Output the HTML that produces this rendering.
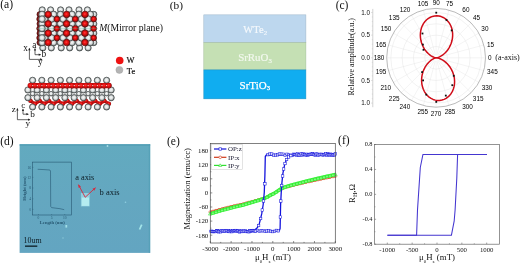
<!DOCTYPE html>
<html><head><meta charset="utf-8"><title>Figure</title>
<style>
html,body{margin:0;padding:0;background:#fff;}
body{width:520px;height:264px;overflow:hidden;}
svg{display:block;}
.se{font-family:"Liberation Serif",serif;}
.sa{font-family:"Liberation Sans",sans-serif;}
</style></head><body>
<svg width="520" height="264" viewBox="0 0 520 264">
<rect width="520" height="264" fill="#fff"/>
<defs>
<radialGradient id="gG" cx="48%" cy="46%" r="54%"><stop offset="0" stop-color="#f6f8f8"/><stop offset="0.45" stop-color="#e2e5e5"/><stop offset="0.75" stop-color="#a8aeae"/><stop offset="1" stop-color="#4e5454"/></radialGradient>
<radialGradient id="gR" cx="46%" cy="44%" r="56%"><stop offset="0" stop-color="#ff4040"/><stop offset="0.4" stop-color="#ea1010"/><stop offset="0.75" stop-color="#c00c0c"/><stop offset="1" stop-color="#641010"/></radialGradient>
<radialGradient id="gD" cx="46%" cy="44%" r="56%"><stop offset="0" stop-color="#c81818"/><stop offset="0.6" stop-color="#a01010"/><stop offset="1" stop-color="#501010"/></radialGradient>
<linearGradient id="afm" x1="0" y1="0" x2="0" y2="1"><stop offset="0" stop-color="#62aabf"/><stop offset="0.5" stop-color="#64a7c0"/><stop offset="1" stop-color="#63a5c1"/></linearGradient>
</defs>
<text class="se" x="0.20" y="8.30" font-size="11.6" text-anchor="start" fill="#111" >(a)</text>
<circle cx="42.20" cy="9.90" r="3.1" fill="url(#gG)" stroke="#4c5252" stroke-width="0.8"/>
<circle cx="50.60" cy="9.90" r="3.1" fill="url(#gG)" stroke="#4c5252" stroke-width="0.8"/>
<circle cx="42.80" cy="47.90" r="3.1" fill="url(#gG)" stroke="#4c5252" stroke-width="0.8"/>
<circle cx="51.30" cy="47.90" r="3.1" fill="url(#gG)" stroke="#4c5252" stroke-width="0.8"/>
<circle cx="60.60" cy="9.90" r="3.1" fill="url(#gG)" stroke="#4c5252" stroke-width="0.8"/>
<circle cx="69.00" cy="9.90" r="3.1" fill="url(#gG)" stroke="#4c5252" stroke-width="0.8"/>
<circle cx="61.20" cy="47.90" r="3.1" fill="url(#gG)" stroke="#4c5252" stroke-width="0.8"/>
<circle cx="69.70" cy="47.90" r="3.1" fill="url(#gG)" stroke="#4c5252" stroke-width="0.8"/>
<circle cx="79.00" cy="9.90" r="3.1" fill="url(#gG)" stroke="#4c5252" stroke-width="0.8"/>
<circle cx="87.40" cy="9.90" r="3.1" fill="url(#gG)" stroke="#4c5252" stroke-width="0.8"/>
<circle cx="79.60" cy="47.90" r="3.1" fill="url(#gG)" stroke="#4c5252" stroke-width="0.8"/>
<circle cx="88.10" cy="47.90" r="3.1" fill="url(#gG)" stroke="#4c5252" stroke-width="0.8"/>
<circle cx="39.80" cy="14.40" r="2.8" fill="url(#gD)" stroke="#4a0c0c" stroke-width="0.8"/>
<circle cx="93.80" cy="14.40" r="3.1" fill="url(#gG)" stroke="#4c5252" stroke-width="0.8"/>
<circle cx="39.60" cy="19.10" r="2.8" fill="url(#gD)" stroke="#4a0c0c" stroke-width="0.8"/>
<circle cx="39.80" cy="23.80" r="2.8" fill="url(#gD)" stroke="#4a0c0c" stroke-width="0.8"/>
<circle cx="93.80" cy="23.80" r="3.1" fill="url(#gG)" stroke="#4c5252" stroke-width="0.8"/>
<circle cx="39.60" cy="28.50" r="2.8" fill="url(#gD)" stroke="#4a0c0c" stroke-width="0.8"/>
<circle cx="39.80" cy="33.20" r="2.8" fill="url(#gD)" stroke="#4a0c0c" stroke-width="0.8"/>
<circle cx="93.80" cy="33.20" r="3.1" fill="url(#gG)" stroke="#4c5252" stroke-width="0.8"/>
<circle cx="39.60" cy="37.90" r="2.8" fill="url(#gD)" stroke="#4a0c0c" stroke-width="0.8"/>
<circle cx="39.80" cy="42.60" r="2.8" fill="url(#gD)" stroke="#4a0c0c" stroke-width="0.8"/>
<circle cx="93.80" cy="42.60" r="3.1" fill="url(#gG)" stroke="#4c5252" stroke-width="0.8"/>
<circle cx="42.00" cy="14.40" r="3.3" fill="url(#gG)" stroke="#4c5252" stroke-width="0.8"/>
<circle cx="53.60" cy="14.40" r="3.3" fill="url(#gG)" stroke="#4c5252" stroke-width="0.8"/>
<circle cx="60.40" cy="14.40" r="3.3" fill="url(#gG)" stroke="#4c5252" stroke-width="0.8"/>
<circle cx="72.00" cy="14.40" r="3.3" fill="url(#gG)" stroke="#4c5252" stroke-width="0.8"/>
<circle cx="78.80" cy="14.40" r="3.3" fill="url(#gG)" stroke="#4c5252" stroke-width="0.8"/>
<circle cx="90.40" cy="14.40" r="3.3" fill="url(#gG)" stroke="#4c5252" stroke-width="0.8"/>
<circle cx="42.00" cy="23.80" r="3.3" fill="url(#gG)" stroke="#4c5252" stroke-width="0.8"/>
<circle cx="53.60" cy="23.80" r="3.3" fill="url(#gG)" stroke="#4c5252" stroke-width="0.8"/>
<circle cx="60.40" cy="23.80" r="3.3" fill="url(#gG)" stroke="#4c5252" stroke-width="0.8"/>
<circle cx="72.00" cy="23.80" r="3.3" fill="url(#gG)" stroke="#4c5252" stroke-width="0.8"/>
<circle cx="78.80" cy="23.80" r="3.3" fill="url(#gG)" stroke="#4c5252" stroke-width="0.8"/>
<circle cx="90.40" cy="23.80" r="3.3" fill="url(#gG)" stroke="#4c5252" stroke-width="0.8"/>
<circle cx="42.00" cy="33.20" r="3.3" fill="url(#gG)" stroke="#4c5252" stroke-width="0.8"/>
<circle cx="53.60" cy="33.20" r="3.3" fill="url(#gG)" stroke="#4c5252" stroke-width="0.8"/>
<circle cx="60.40" cy="33.20" r="3.3" fill="url(#gG)" stroke="#4c5252" stroke-width="0.8"/>
<circle cx="72.00" cy="33.20" r="3.3" fill="url(#gG)" stroke="#4c5252" stroke-width="0.8"/>
<circle cx="78.80" cy="33.20" r="3.3" fill="url(#gG)" stroke="#4c5252" stroke-width="0.8"/>
<circle cx="90.40" cy="33.20" r="3.3" fill="url(#gG)" stroke="#4c5252" stroke-width="0.8"/>
<circle cx="42.00" cy="42.60" r="3.3" fill="url(#gG)" stroke="#4c5252" stroke-width="0.8"/>
<circle cx="53.60" cy="42.60" r="3.3" fill="url(#gG)" stroke="#4c5252" stroke-width="0.8"/>
<circle cx="60.40" cy="42.60" r="3.3" fill="url(#gG)" stroke="#4c5252" stroke-width="0.8"/>
<circle cx="72.00" cy="42.60" r="3.3" fill="url(#gG)" stroke="#4c5252" stroke-width="0.8"/>
<circle cx="78.80" cy="42.60" r="3.3" fill="url(#gG)" stroke="#4c5252" stroke-width="0.8"/>
<circle cx="90.40" cy="42.60" r="3.3" fill="url(#gG)" stroke="#4c5252" stroke-width="0.8"/>
<circle cx="51.50" cy="19.10" r="3.3" fill="url(#gG)" stroke="#4c5252" stroke-width="0.8"/>
<circle cx="44.70" cy="19.10" r="3.3" fill="url(#gG)" stroke="#4c5252" stroke-width="0.8"/>
<circle cx="69.90" cy="19.10" r="3.3" fill="url(#gG)" stroke="#4c5252" stroke-width="0.8"/>
<circle cx="63.10" cy="19.10" r="3.3" fill="url(#gG)" stroke="#4c5252" stroke-width="0.8"/>
<circle cx="88.30" cy="19.10" r="3.3" fill="url(#gG)" stroke="#4c5252" stroke-width="0.8"/>
<circle cx="81.50" cy="19.10" r="3.3" fill="url(#gG)" stroke="#4c5252" stroke-width="0.8"/>
<circle cx="42.00" cy="19.10" r="3.3" fill="url(#gG)" stroke="#4c5252" stroke-width="0.8"/>
<circle cx="51.50" cy="28.50" r="3.3" fill="url(#gG)" stroke="#4c5252" stroke-width="0.8"/>
<circle cx="44.70" cy="28.50" r="3.3" fill="url(#gG)" stroke="#4c5252" stroke-width="0.8"/>
<circle cx="69.90" cy="28.50" r="3.3" fill="url(#gG)" stroke="#4c5252" stroke-width="0.8"/>
<circle cx="63.10" cy="28.50" r="3.3" fill="url(#gG)" stroke="#4c5252" stroke-width="0.8"/>
<circle cx="88.30" cy="28.50" r="3.3" fill="url(#gG)" stroke="#4c5252" stroke-width="0.8"/>
<circle cx="81.50" cy="28.50" r="3.3" fill="url(#gG)" stroke="#4c5252" stroke-width="0.8"/>
<circle cx="42.00" cy="28.50" r="3.3" fill="url(#gG)" stroke="#4c5252" stroke-width="0.8"/>
<circle cx="51.50" cy="37.90" r="3.3" fill="url(#gG)" stroke="#4c5252" stroke-width="0.8"/>
<circle cx="44.70" cy="37.90" r="3.3" fill="url(#gG)" stroke="#4c5252" stroke-width="0.8"/>
<circle cx="69.90" cy="37.90" r="3.3" fill="url(#gG)" stroke="#4c5252" stroke-width="0.8"/>
<circle cx="63.10" cy="37.90" r="3.3" fill="url(#gG)" stroke="#4c5252" stroke-width="0.8"/>
<circle cx="88.30" cy="37.90" r="3.3" fill="url(#gG)" stroke="#4c5252" stroke-width="0.8"/>
<circle cx="81.50" cy="37.90" r="3.3" fill="url(#gG)" stroke="#4c5252" stroke-width="0.8"/>
<circle cx="42.00" cy="37.90" r="3.3" fill="url(#gG)" stroke="#4c5252" stroke-width="0.8"/>
<circle cx="56.90" cy="19.10" r="2.85" fill="url(#gR)" stroke="#681010" stroke-width="0.8"/>
<circle cx="75.30" cy="19.10" r="2.85" fill="url(#gR)" stroke="#681010" stroke-width="0.8"/>
<circle cx="93.70" cy="19.10" r="2.85" fill="url(#gR)" stroke="#681010" stroke-width="0.8"/>
<circle cx="56.90" cy="28.50" r="2.85" fill="url(#gR)" stroke="#681010" stroke-width="0.8"/>
<circle cx="75.30" cy="28.50" r="2.85" fill="url(#gR)" stroke="#681010" stroke-width="0.8"/>
<circle cx="93.70" cy="28.50" r="2.85" fill="url(#gR)" stroke="#681010" stroke-width="0.8"/>
<circle cx="56.90" cy="37.90" r="2.85" fill="url(#gR)" stroke="#681010" stroke-width="0.8"/>
<circle cx="75.30" cy="37.90" r="2.85" fill="url(#gR)" stroke="#681010" stroke-width="0.8"/>
<circle cx="93.70" cy="37.90" r="2.85" fill="url(#gR)" stroke="#681010" stroke-width="0.8"/>
<circle cx="48.20" cy="14.40" r="3.25" fill="url(#gR)" stroke="#681010" stroke-width="0.8"/>
<circle cx="66.60" cy="14.40" r="3.25" fill="url(#gR)" stroke="#681010" stroke-width="0.8"/>
<circle cx="85.00" cy="14.40" r="3.25" fill="url(#gR)" stroke="#681010" stroke-width="0.8"/>
<circle cx="48.20" cy="23.80" r="3.25" fill="url(#gR)" stroke="#681010" stroke-width="0.8"/>
<circle cx="66.60" cy="23.80" r="3.25" fill="url(#gR)" stroke="#681010" stroke-width="0.8"/>
<circle cx="85.00" cy="23.80" r="3.25" fill="url(#gR)" stroke="#681010" stroke-width="0.8"/>
<circle cx="48.20" cy="33.20" r="3.25" fill="url(#gR)" stroke="#681010" stroke-width="0.8"/>
<circle cx="66.60" cy="33.20" r="3.25" fill="url(#gR)" stroke="#681010" stroke-width="0.8"/>
<circle cx="85.00" cy="33.20" r="3.25" fill="url(#gR)" stroke="#681010" stroke-width="0.8"/>
<circle cx="48.20" cy="42.60" r="3.25" fill="url(#gR)" stroke="#681010" stroke-width="0.8"/>
<circle cx="66.60" cy="42.60" r="3.25" fill="url(#gR)" stroke="#681010" stroke-width="0.8"/>
<circle cx="85.00" cy="42.60" r="3.25" fill="url(#gR)" stroke="#681010" stroke-width="0.8"/>
<line x1="37" y1="28.4" x2="98" y2="28.4" stroke="#3fae8c" stroke-width="0.5" opacity="0.6"/>
<path d="M29.4,48.4 V59.4 H41.9" fill="none" stroke="#222" stroke-width="0.7"/>
<path d="M28.299999999999997,50.199999999999996 L29.4,47.8 L30.5,50.199999999999996Z" fill="#222"/>
<path d="M40.1,58.3 L42.5,59.4 L40.1,60.5Z" fill="#222"/>
<path d="M35,48.7 V54.7 H40.5" fill="none" stroke="#222" stroke-width="0.7"/>
<path d="M33.9,50.5 L35,48.1 L36.1,50.5Z" fill="#222"/>
<path d="M38.7,53.6 L41.1,54.7 L38.7,55.800000000000004Z" fill="#222"/>
<text class="se" x="23.30" y="50.60" font-size="9.3" text-anchor="start" fill="#111" >x</text>
<text class="se" x="32.30" y="47.80" font-size="9.3" text-anchor="start" fill="#111" >a</text>
<text class="se" x="41.50" y="57.40" font-size="9.3" text-anchor="start" fill="#111" >b</text>
<text class="se" x="38.00" y="64.90" font-size="9.3" text-anchor="start" fill="#111" >y</text>
<text class="se" x="99.30" y="31.40" font-size="9.6" text-anchor="start" fill="#111" font-style="italic">M</text>
<text class="se" x="107.30" y="30.80" font-size="9.7" text-anchor="start" fill="#111" >(Mirror plane)</text>
<circle cx="119.7" cy="60.5" r="3.8" fill="#ee1212"/>
<text class="se" x="126.60" y="63.40" font-size="8.5" text-anchor="start" fill="#111" stroke="#111" stroke-width="0.2">W</text>
<circle cx="119.4" cy="69.9" r="3.5" fill="#b4b4b4" stroke="#a4a4a4" stroke-width="0.5"/>
<text class="se" x="126.80" y="73.50" font-size="8.5" text-anchor="start" fill="#111" stroke="#111" stroke-width="0.2">Te</text>
<circle cx="27.90" cy="90.00" r="3.1" fill="url(#gG)" stroke="#4c5252" stroke-width="0.8"/>
<circle cx="37.15" cy="90.00" r="3.1" fill="url(#gG)" stroke="#4c5252" stroke-width="0.8"/>
<circle cx="46.40" cy="90.00" r="3.1" fill="url(#gG)" stroke="#4c5252" stroke-width="0.8"/>
<circle cx="55.65" cy="90.00" r="3.1" fill="url(#gG)" stroke="#4c5252" stroke-width="0.8"/>
<circle cx="64.90" cy="90.00" r="3.1" fill="url(#gG)" stroke="#4c5252" stroke-width="0.8"/>
<circle cx="74.15" cy="90.00" r="3.1" fill="url(#gG)" stroke="#4c5252" stroke-width="0.8"/>
<circle cx="83.40" cy="90.00" r="3.1" fill="url(#gG)" stroke="#4c5252" stroke-width="0.8"/>
<circle cx="92.65" cy="90.00" r="3.1" fill="url(#gG)" stroke="#4c5252" stroke-width="0.8"/>
<circle cx="101.90" cy="90.00" r="3.1" fill="url(#gG)" stroke="#4c5252" stroke-width="0.8"/>
<circle cx="111.15" cy="90.00" r="3.1" fill="url(#gG)" stroke="#4c5252" stroke-width="0.8"/>
<circle cx="32.60" cy="93.70" r="2.3" fill="url(#gG)" stroke="#4c5252" stroke-width="0.8"/>
<circle cx="41.85" cy="93.70" r="2.3" fill="url(#gG)" stroke="#4c5252" stroke-width="0.8"/>
<circle cx="51.10" cy="93.70" r="2.3" fill="url(#gG)" stroke="#4c5252" stroke-width="0.8"/>
<circle cx="60.35" cy="93.70" r="2.3" fill="url(#gG)" stroke="#4c5252" stroke-width="0.8"/>
<circle cx="69.60" cy="93.70" r="2.3" fill="url(#gG)" stroke="#4c5252" stroke-width="0.8"/>
<circle cx="78.85" cy="93.70" r="2.3" fill="url(#gG)" stroke="#4c5252" stroke-width="0.8"/>
<circle cx="88.10" cy="93.70" r="2.3" fill="url(#gG)" stroke="#4c5252" stroke-width="0.8"/>
<circle cx="97.35" cy="93.70" r="2.3" fill="url(#gG)" stroke="#4c5252" stroke-width="0.8"/>
<circle cx="106.60" cy="93.70" r="2.3" fill="url(#gG)" stroke="#4c5252" stroke-width="0.8"/>
<path d="M30.40,100.80 L35.02,103.80 L39.64,100.80 L44.26,103.80 L48.88,100.80 L53.50,103.80 L58.12,100.80 L62.74,103.80 L67.36,100.80 L71.98,103.80 L76.60,100.80 L81.22,103.80 L85.84,100.80 L90.46,103.80 L95.08,100.80 L99.70,103.80 L104.32,100.80 L108.94,103.80" fill="none" stroke="#d81414" stroke-width="3.2" stroke-linejoin="round" stroke-linecap="round"/>
<circle cx="30.40" cy="100.80" r="2.2" fill="url(#gR)"/>
<circle cx="35.02" cy="103.80" r="2.2" fill="url(#gR)"/>
<circle cx="39.64" cy="100.80" r="2.2" fill="url(#gR)"/>
<circle cx="44.26" cy="103.80" r="2.2" fill="url(#gR)"/>
<circle cx="48.88" cy="100.80" r="2.2" fill="url(#gR)"/>
<circle cx="53.50" cy="103.80" r="2.2" fill="url(#gR)"/>
<circle cx="58.12" cy="100.80" r="2.2" fill="url(#gR)"/>
<circle cx="62.74" cy="103.80" r="2.2" fill="url(#gR)"/>
<circle cx="67.36" cy="100.80" r="2.2" fill="url(#gR)"/>
<circle cx="71.98" cy="103.80" r="2.2" fill="url(#gR)"/>
<circle cx="76.60" cy="100.80" r="2.2" fill="url(#gR)"/>
<circle cx="81.22" cy="103.80" r="2.2" fill="url(#gR)"/>
<circle cx="85.84" cy="100.80" r="2.2" fill="url(#gR)"/>
<circle cx="90.46" cy="103.80" r="2.2" fill="url(#gR)"/>
<circle cx="95.08" cy="100.80" r="2.2" fill="url(#gR)"/>
<circle cx="99.70" cy="103.80" r="2.2" fill="url(#gR)"/>
<circle cx="104.32" cy="100.80" r="2.2" fill="url(#gR)"/>
<circle cx="108.94" cy="103.80" r="2.2" fill="url(#gR)"/>
<circle cx="27.90" cy="97.70" r="3.1" fill="url(#gG)" stroke="#4c5252" stroke-width="0.8"/>
<circle cx="37.15" cy="97.70" r="3.1" fill="url(#gG)" stroke="#4c5252" stroke-width="0.8"/>
<circle cx="46.40" cy="97.70" r="3.1" fill="url(#gG)" stroke="#4c5252" stroke-width="0.8"/>
<circle cx="55.65" cy="97.70" r="3.1" fill="url(#gG)" stroke="#4c5252" stroke-width="0.8"/>
<circle cx="64.90" cy="97.70" r="3.1" fill="url(#gG)" stroke="#4c5252" stroke-width="0.8"/>
<circle cx="74.15" cy="97.70" r="3.1" fill="url(#gG)" stroke="#4c5252" stroke-width="0.8"/>
<circle cx="83.40" cy="97.70" r="3.1" fill="url(#gG)" stroke="#4c5252" stroke-width="0.8"/>
<circle cx="92.65" cy="97.70" r="3.1" fill="url(#gG)" stroke="#4c5252" stroke-width="0.8"/>
<circle cx="101.90" cy="97.70" r="3.1" fill="url(#gG)" stroke="#4c5252" stroke-width="0.8"/>
<circle cx="111.15" cy="97.70" r="3.1" fill="url(#gG)" stroke="#4c5252" stroke-width="0.8"/>
<circle cx="32.60" cy="80.30" r="3.1" fill="url(#gG)" stroke="#4c5252" stroke-width="0.8"/>
<circle cx="41.85" cy="80.30" r="3.1" fill="url(#gG)" stroke="#4c5252" stroke-width="0.8"/>
<circle cx="51.10" cy="80.30" r="3.1" fill="url(#gG)" stroke="#4c5252" stroke-width="0.8"/>
<circle cx="60.35" cy="80.30" r="3.1" fill="url(#gG)" stroke="#4c5252" stroke-width="0.8"/>
<circle cx="69.60" cy="80.30" r="3.1" fill="url(#gG)" stroke="#4c5252" stroke-width="0.8"/>
<circle cx="78.85" cy="80.30" r="3.1" fill="url(#gG)" stroke="#4c5252" stroke-width="0.8"/>
<circle cx="88.10" cy="80.30" r="3.1" fill="url(#gG)" stroke="#4c5252" stroke-width="0.8"/>
<circle cx="97.35" cy="80.30" r="3.1" fill="url(#gG)" stroke="#4c5252" stroke-width="0.8"/>
<circle cx="106.60" cy="80.30" r="3.1" fill="url(#gG)" stroke="#4c5252" stroke-width="0.8"/>
<circle cx="32.60" cy="107.00" r="3.1" fill="url(#gG)" stroke="#4c5252" stroke-width="0.8"/>
<circle cx="41.85" cy="107.00" r="3.1" fill="url(#gG)" stroke="#4c5252" stroke-width="0.8"/>
<circle cx="51.10" cy="107.00" r="3.1" fill="url(#gG)" stroke="#4c5252" stroke-width="0.8"/>
<circle cx="60.35" cy="107.00" r="3.1" fill="url(#gG)" stroke="#4c5252" stroke-width="0.8"/>
<circle cx="69.60" cy="107.00" r="3.1" fill="url(#gG)" stroke="#4c5252" stroke-width="0.8"/>
<circle cx="78.85" cy="107.00" r="3.1" fill="url(#gG)" stroke="#4c5252" stroke-width="0.8"/>
<circle cx="88.10" cy="107.00" r="3.1" fill="url(#gG)" stroke="#4c5252" stroke-width="0.8"/>
<circle cx="97.35" cy="107.00" r="3.1" fill="url(#gG)" stroke="#4c5252" stroke-width="0.8"/>
<circle cx="106.60" cy="107.00" r="3.1" fill="url(#gG)" stroke="#4c5252" stroke-width="0.8"/>
<rect x="28.4" y="82.9" width="82.8" height="5.4" rx="2.7" fill="#e01010"/>
<circle cx="30.40" cy="85.6" r="2.8" fill="url(#gR)"/>
<circle cx="35.02" cy="85.6" r="2.8" fill="url(#gR)"/>
<circle cx="39.64" cy="85.6" r="2.8" fill="url(#gR)"/>
<circle cx="44.26" cy="85.6" r="2.8" fill="url(#gR)"/>
<circle cx="48.88" cy="85.6" r="2.8" fill="url(#gR)"/>
<circle cx="53.50" cy="85.6" r="2.8" fill="url(#gR)"/>
<circle cx="58.12" cy="85.6" r="2.8" fill="url(#gR)"/>
<circle cx="62.74" cy="85.6" r="2.8" fill="url(#gR)"/>
<circle cx="67.36" cy="85.6" r="2.8" fill="url(#gR)"/>
<circle cx="71.98" cy="85.6" r="2.8" fill="url(#gR)"/>
<circle cx="76.60" cy="85.6" r="2.8" fill="url(#gR)"/>
<circle cx="81.22" cy="85.6" r="2.8" fill="url(#gR)"/>
<circle cx="85.84" cy="85.6" r="2.8" fill="url(#gR)"/>
<circle cx="90.46" cy="85.6" r="2.8" fill="url(#gR)"/>
<circle cx="95.08" cy="85.6" r="2.8" fill="url(#gR)"/>
<circle cx="99.70" cy="85.6" r="2.8" fill="url(#gR)"/>
<circle cx="104.32" cy="85.6" r="2.8" fill="url(#gR)"/>
<circle cx="108.94" cy="85.6" r="2.8" fill="url(#gR)"/>
<circle cx="32.70" cy="85.6" r="0.7" fill="#f6dcdc"/>
<circle cx="37.32" cy="85.6" r="0.7" fill="#f6dcdc"/>
<circle cx="41.94" cy="85.6" r="0.7" fill="#f6dcdc"/>
<circle cx="46.56" cy="85.6" r="0.7" fill="#f6dcdc"/>
<circle cx="51.18" cy="85.6" r="0.7" fill="#f6dcdc"/>
<circle cx="55.80" cy="85.6" r="0.7" fill="#f6dcdc"/>
<circle cx="60.42" cy="85.6" r="0.7" fill="#f6dcdc"/>
<circle cx="65.04" cy="85.6" r="0.7" fill="#f6dcdc"/>
<circle cx="69.66" cy="85.6" r="0.7" fill="#f6dcdc"/>
<circle cx="74.28" cy="85.6" r="0.7" fill="#f6dcdc"/>
<circle cx="78.90" cy="85.6" r="0.7" fill="#f6dcdc"/>
<circle cx="83.52" cy="85.6" r="0.7" fill="#f6dcdc"/>
<circle cx="88.14" cy="85.6" r="0.7" fill="#f6dcdc"/>
<circle cx="92.76" cy="85.6" r="0.7" fill="#f6dcdc"/>
<circle cx="97.38" cy="85.6" r="0.7" fill="#f6dcdc"/>
<circle cx="102.00" cy="85.6" r="0.7" fill="#f6dcdc"/>
<circle cx="106.62" cy="85.6" r="0.7" fill="#f6dcdc"/>
<path d="M17.4,108.7 V119.7 H29.799999999999997" fill="none" stroke="#222" stroke-width="0.7"/>
<path d="M16.299999999999997,110.5 L17.4,108.10000000000001 L18.5,110.5Z" fill="#222"/>
<path d="M27.999999999999996,118.60000000000001 L30.4,119.7 L27.999999999999996,120.8Z" fill="#222"/>
<path d="M23.0,109.2 V114.2 H28.2" fill="none" stroke="#222" stroke-width="0.7"/>
<path d="M21.9,111.0 L23.0,108.60000000000001 L24.1,111.0Z" fill="#222"/>
<path d="M26.4,113.10000000000001 L28.8,114.2 L26.4,115.3Z" fill="#222"/>
<text class="se" x="11.80" y="112.40" font-size="9.2" text-anchor="start" fill="#111" >z</text>
<text class="se" x="21.30" y="107.60" font-size="9.2" text-anchor="start" fill="#111" >c</text>
<text class="se" x="30.20" y="117.00" font-size="9.2" text-anchor="start" fill="#111" >b</text>
<text class="se" x="25.40" y="126.20" font-size="9.2" text-anchor="start" fill="#111" >y</text>
<text class="se" x="169.80" y="8.80" font-size="11.3" text-anchor="start" fill="#111" >(b)</text>
<rect x="203.8" y="14.85" width="102.1" height="27.85" fill="#bdd7ee" stroke="#9db4c8" stroke-width="0.5"/>
<rect x="203.8" y="42.7" width="102.1" height="27.2" fill="#c5e0b4" stroke="#a2bc98" stroke-width="0.5"/>
<rect x="203.8" y="69.9" width="102.1" height="28.95" fill="#10adf0" stroke="#1c90c4" stroke-width="0.5"/>
<text class="se" x="255.20" y="32.70" font-size="10.5" text-anchor="middle" fill="#f4f8fc" stroke="#f4f8fc" stroke-width="0.2">WTe<tspan font-size="6.8" dy="1.9">2</tspan></text>
<text class="se" x="255.00" y="60.60" font-size="10.9" text-anchor="middle" fill="#f2f8ee" stroke="#f2f8ee" stroke-width="0.2">SrRuO<tspan font-size="6.8" dy="1.9">3</tspan></text>
<text class="se" x="254.80" y="88.50" font-size="11.0" text-anchor="middle" fill="#ffffff" stroke="#fff" stroke-width="0.25">SrTiO<tspan font-size="6.8" dy="1.9">3</tspan></text>
<text class="se" x="335.70" y="8.50" font-size="11.5" text-anchor="start" fill="#111" >(c)</text>
<line x1="439.10" y1="57.80" x2="485.50" y2="57.80" stroke="#e8e8e8" stroke-width="0.5"/>
<line x1="439.00" y1="57.02" x2="483.82" y2="45.01" stroke="#e8e8e8" stroke-width="0.5"/>
<line x1="438.70" y1="56.30" x2="478.88" y2="33.10" stroke="#e8e8e8" stroke-width="0.5"/>
<line x1="438.22" y1="55.68" x2="471.03" y2="22.87" stroke="#e8e8e8" stroke-width="0.5"/>
<line x1="437.60" y1="55.20" x2="460.80" y2="15.02" stroke="#e8e8e8" stroke-width="0.5"/>
<line x1="436.88" y1="54.90" x2="448.89" y2="10.08" stroke="#e8e8e8" stroke-width="0.5"/>
<line x1="436.10" y1="54.80" x2="436.10" y2="8.40" stroke="#e8e8e8" stroke-width="0.5"/>
<line x1="435.32" y1="54.90" x2="423.31" y2="10.08" stroke="#e8e8e8" stroke-width="0.5"/>
<line x1="434.60" y1="55.20" x2="411.40" y2="15.02" stroke="#e8e8e8" stroke-width="0.5"/>
<line x1="433.98" y1="55.68" x2="401.17" y2="22.87" stroke="#e8e8e8" stroke-width="0.5"/>
<line x1="433.50" y1="56.30" x2="393.32" y2="33.10" stroke="#e8e8e8" stroke-width="0.5"/>
<line x1="433.20" y1="57.02" x2="388.38" y2="45.01" stroke="#e8e8e8" stroke-width="0.5"/>
<line x1="433.10" y1="57.80" x2="386.70" y2="57.80" stroke="#e8e8e8" stroke-width="0.5"/>
<line x1="433.20" y1="58.58" x2="388.38" y2="70.59" stroke="#e8e8e8" stroke-width="0.5"/>
<line x1="433.50" y1="59.30" x2="393.32" y2="82.50" stroke="#e8e8e8" stroke-width="0.5"/>
<line x1="433.98" y1="59.92" x2="401.17" y2="92.73" stroke="#e8e8e8" stroke-width="0.5"/>
<line x1="434.60" y1="60.40" x2="411.40" y2="100.58" stroke="#e8e8e8" stroke-width="0.5"/>
<line x1="435.32" y1="60.70" x2="423.31" y2="105.52" stroke="#e8e8e8" stroke-width="0.5"/>
<line x1="436.10" y1="60.80" x2="436.10" y2="107.20" stroke="#e8e8e8" stroke-width="0.5"/>
<line x1="436.88" y1="60.70" x2="448.89" y2="105.52" stroke="#e8e8e8" stroke-width="0.5"/>
<line x1="437.60" y1="60.40" x2="460.80" y2="100.58" stroke="#e8e8e8" stroke-width="0.5"/>
<line x1="438.22" y1="59.92" x2="471.03" y2="92.73" stroke="#e8e8e8" stroke-width="0.5"/>
<line x1="438.70" y1="59.30" x2="478.88" y2="82.50" stroke="#e8e8e8" stroke-width="0.5"/>
<line x1="439.00" y1="58.58" x2="483.82" y2="70.59" stroke="#e8e8e8" stroke-width="0.5"/>
<circle cx="436.1" cy="57.8" r="11.325" fill="none" stroke="#e4e4e4" stroke-width="0.5"/>
<circle cx="436.1" cy="57.8" r="22.65" fill="none" stroke="#e4e4e4" stroke-width="0.5"/>
<circle cx="436.1" cy="57.8" r="33.974999999999994" fill="none" stroke="#e4e4e4" stroke-width="0.5"/>
<circle cx="436.1" cy="57.8" r="45.3" fill="none" stroke="#e4e4e4" stroke-width="0.5"/>
<circle cx="436.1" cy="57.8" r="49.4" fill="none" stroke="#8c8c8c" stroke-width="0.6"/>
<text class="sa" x="489.90" y="60.10" font-size="6.4" text-anchor="middle" fill="#000" >0</text>
<text class="sa" x="490.60" y="47.10" font-size="6.4" text-anchor="middle" fill="#000" >15</text>
<text class="sa" x="484.90" y="31.10" font-size="6.4" text-anchor="middle" fill="#000" >30</text>
<text class="sa" x="476.50" y="20.10" font-size="6.4" text-anchor="middle" fill="#000" >45</text>
<text class="sa" x="465.90" y="11.80" font-size="6.4" text-anchor="middle" fill="#000" >60</text>
<text class="sa" x="449.60" y="6.40" font-size="6.4" text-anchor="middle" fill="#000" >75</text>
<text class="sa" x="436.20" y="5.00" font-size="6.4" text-anchor="middle" fill="#000" >90</text>
<text class="sa" x="423.10" y="6.40" font-size="6.4" text-anchor="middle" fill="#000" >105</text>
<text class="sa" x="405.10" y="11.80" font-size="6.4" text-anchor="middle" fill="#000" >120</text>
<text class="sa" x="394.20" y="20.10" font-size="6.4" text-anchor="middle" fill="#000" >135</text>
<text class="sa" x="386.10" y="31.00" font-size="6.4" text-anchor="middle" fill="#000" >150</text>
<text class="sa" x="381.10" y="47.00" font-size="6.4" text-anchor="middle" fill="#000" >165</text>
<text class="sa" x="379.00" y="60.30" font-size="6.4" text-anchor="middle" fill="#000" >180</text>
<text class="sa" x="381.10" y="73.80" font-size="6.4" text-anchor="middle" fill="#000" >195</text>
<text class="sa" x="385.80" y="90.05" font-size="6.4" text-anchor="middle" fill="#000" >210</text>
<text class="sa" x="394.20" y="101.00" font-size="6.4" text-anchor="middle" fill="#000" >225</text>
<text class="sa" x="404.90" y="109.10" font-size="6.4" text-anchor="middle" fill="#000" >240</text>
<text class="sa" x="422.80" y="114.10" font-size="6.4" text-anchor="middle" fill="#000" >255</text>
<text class="sa" x="436.10" y="115.70" font-size="6.4" text-anchor="middle" fill="#000" >270</text>
<text class="sa" x="450.10" y="114.30" font-size="6.4" text-anchor="middle" fill="#000" >285</text>
<text class="sa" x="467.50" y="109.00" font-size="6.4" text-anchor="middle" fill="#000" >300</text>
<text class="sa" x="478.20" y="100.80" font-size="6.4" text-anchor="middle" fill="#000" >315</text>
<text class="sa" x="487.00" y="90.00" font-size="6.4" text-anchor="middle" fill="#000" >330</text>
<text class="sa" x="492.40" y="73.80" font-size="6.4" text-anchor="middle" fill="#000" >345</text>
<text class="se" x="495.30" y="59.60" font-size="8.0" text-anchor="start" fill="#111" >(a-axis)</text>
<path d="M436.10,57.80 L436.21,57.80 L436.56,57.76 L437.12,57.66 L437.88,57.45 L438.83,57.12 L439.94,56.63 L441.17,55.96 L442.50,55.09 L443.88,54.01 L445.28,52.71 L446.67,51.20 L447.99,49.48 L449.21,47.56 L450.29,45.46 L451.21,43.21 L451.92,40.84 L452.41,38.37 L452.64,35.85 L452.62,33.31 L452.32,30.80 L451.75,28.36 L450.91,26.03 L449.81,23.86 L448.47,21.88 L446.90,20.13 L445.14,18.65 L443.21,17.45 L441.16,16.57 L439.02,16.02 L436.83,15.81 L434.64,15.94 L432.48,16.42 L430.40,17.23 L428.43,18.35 L426.62,19.78 L424.99,21.47 L423.58,23.40 L422.40,25.53 L421.48,27.83 L420.83,30.25 L420.45,32.75 L420.33,35.28 L420.48,37.81 L420.88,40.29 L421.51,42.69 L422.35,44.98 L423.36,47.11 L424.51,49.07 L425.77,50.83 L427.10,52.39 L428.46,53.74 L429.80,54.86 L431.10,55.78 L432.31,56.49 L433.40,57.02 L434.33,57.39 L435.09,57.62 L435.64,57.74 L435.99,57.79 L436.10,57.80Z" fill="none" stroke="#d00c18" stroke-width="1.5" stroke-linejoin="round"/>
<path d="M436.10,57.80 L435.98,57.82 L435.64,57.89 L435.08,58.05 L434.33,58.34 L433.40,58.78 L432.34,59.39 L431.16,60.20 L429.90,61.22 L428.61,62.46 L427.32,63.92 L426.08,65.60 L424.92,67.48 L423.89,69.55 L423.01,71.79 L422.32,74.17 L421.84,76.65 L421.61,79.20 L421.63,81.79 L421.92,84.36 L422.48,86.87 L423.32,89.28 L424.41,91.55 L425.76,93.64 L427.33,95.51 L429.10,97.11 L431.04,98.44 L433.11,99.45 L435.29,100.12 L437.52,100.46 L439.76,100.44 L441.97,100.08 L444.10,99.37 L446.13,98.33 L448.00,96.98 L449.69,95.35 L451.16,93.46 L452.39,91.36 L453.36,89.07 L454.06,86.65 L454.47,84.13 L454.59,81.55 L454.44,78.97 L454.02,76.43 L453.36,73.95 L452.47,71.58 L451.38,69.36 L450.14,67.30 L448.76,65.44 L447.30,63.78 L445.79,62.34 L444.27,61.12 L442.79,60.12 L441.38,59.32 L440.08,58.73 L438.92,58.30 L437.94,58.03 L437.14,57.87 L436.57,57.81 L436.22,57.80 L436.10,57.80Z" fill="none" stroke="#d00c18" stroke-width="1.5" stroke-linejoin="round"/>
<rect x="435.35" y="11.80" width="1.8" height="1.8" fill="#111"/>
<rect x="445.60" y="19.10" width="1.8" height="1.8" fill="#111"/>
<rect x="450.80" y="29.50" width="1.8" height="1.8" fill="#111"/>
<rect x="421.60" y="32.60" width="1.8" height="1.8" fill="#111"/>
<rect x="422.00" y="43.70" width="1.8" height="1.8" fill="#111"/>
<rect x="422.60" y="48.90" width="1.8" height="1.8" fill="#111"/>
<rect x="421.20" y="71.20" width="1.8" height="1.8" fill="#111"/>
<rect x="422.20" y="79.50" width="1.8" height="1.8" fill="#111"/>
<rect x="425.35" y="93.70" width="1.8" height="1.8" fill="#111"/>
<rect x="435.35" y="101.00" width="1.8" height="1.8" fill="#111"/>
<rect x="444.90" y="94.70" width="1.8" height="1.8" fill="#111"/>
<rect x="451.40" y="84.30" width="1.8" height="1.8" fill="#111"/>
<rect x="452.85" y="74.90" width="1.8" height="1.8" fill="#111"/>
<line x1="372.8" y1="8.9" x2="372.8" y2="107.2" stroke="#cdcdcd" stroke-width="0.9"/>
<line x1="372.8" y1="103.10" x2="371.0" y2="103.10" stroke="#c4c4c4" stroke-width="0.5"/>
<line x1="372.8" y1="98.57" x2="371.8" y2="98.57" stroke="#c4c4c4" stroke-width="0.5"/>
<line x1="372.8" y1="94.04" x2="371.8" y2="94.04" stroke="#c4c4c4" stroke-width="0.5"/>
<line x1="372.8" y1="89.51" x2="371.8" y2="89.51" stroke="#c4c4c4" stroke-width="0.5"/>
<line x1="372.8" y1="84.98" x2="371.8" y2="84.98" stroke="#c4c4c4" stroke-width="0.5"/>
<line x1="372.8" y1="80.45" x2="371.0" y2="80.45" stroke="#c4c4c4" stroke-width="0.5"/>
<line x1="372.8" y1="75.92" x2="371.8" y2="75.92" stroke="#c4c4c4" stroke-width="0.5"/>
<line x1="372.8" y1="71.39" x2="371.8" y2="71.39" stroke="#c4c4c4" stroke-width="0.5"/>
<line x1="372.8" y1="66.86" x2="371.8" y2="66.86" stroke="#c4c4c4" stroke-width="0.5"/>
<line x1="372.8" y1="62.33" x2="371.8" y2="62.33" stroke="#c4c4c4" stroke-width="0.5"/>
<line x1="372.8" y1="57.80" x2="371.0" y2="57.80" stroke="#c4c4c4" stroke-width="0.5"/>
<line x1="372.8" y1="53.27" x2="371.8" y2="53.27" stroke="#c4c4c4" stroke-width="0.5"/>
<line x1="372.8" y1="48.74" x2="371.8" y2="48.74" stroke="#c4c4c4" stroke-width="0.5"/>
<line x1="372.8" y1="44.21" x2="371.8" y2="44.21" stroke="#c4c4c4" stroke-width="0.5"/>
<line x1="372.8" y1="39.68" x2="371.8" y2="39.68" stroke="#c4c4c4" stroke-width="0.5"/>
<line x1="372.8" y1="35.15" x2="371.0" y2="35.15" stroke="#c4c4c4" stroke-width="0.5"/>
<line x1="372.8" y1="30.62" x2="371.8" y2="30.62" stroke="#c4c4c4" stroke-width="0.5"/>
<line x1="372.8" y1="26.09" x2="371.8" y2="26.09" stroke="#c4c4c4" stroke-width="0.5"/>
<line x1="372.8" y1="21.56" x2="371.8" y2="21.56" stroke="#c4c4c4" stroke-width="0.5"/>
<line x1="372.8" y1="17.03" x2="371.8" y2="17.03" stroke="#c4c4c4" stroke-width="0.5"/>
<line x1="372.8" y1="12.50" x2="371.0" y2="12.50" stroke="#c4c4c4" stroke-width="0.5"/>
<text class="sa" x="370.00" y="14.80" font-size="6.3" text-anchor="end" fill="#111" >1.0</text>
<text class="sa" x="370.00" y="37.45" font-size="6.3" text-anchor="end" fill="#111" >0.5</text>
<text class="sa" x="370.00" y="60.10" font-size="6.3" text-anchor="end" fill="#111" >0.0</text>
<text class="sa" x="370.00" y="82.75" font-size="6.3" text-anchor="end" fill="#111" >0.5</text>
<text class="sa" x="370.00" y="105.40" font-size="6.3" text-anchor="end" fill="#111" >1.0</text>
<text class="se" transform="translate(354.30,56.80) rotate(-90)" font-size="8.0" text-anchor="middle" fill="#111">Relative amplitude(a.u.)</text>
<text class="se" x="0.20" y="144.80" font-size="11.5" text-anchor="start" fill="#111" >(d)</text>
<rect x="19.6" y="144.2" width="130.6" height="108.7" fill="url(#afm)"/>
<rect x="19.6" y="144.2" width="130.6" height="1.6" fill="#4f9cb4" opacity="0.8"/>
<rect x="148.8" y="144.2" width="1.4" height="108.7" fill="#4f9cb4" opacity="0.6"/>
<rect x="80.9" y="193.0" width="8.8" height="13.4" fill="#8fd0e0"/>
<rect x="81.8" y="197.5" width="7.2" height="8.4" fill="#b4ecf0"/>
<rect x="139.8" y="224.3" width="1.7" height="5.4" fill="#a4e6ea" transform="rotate(24 140.6 227)"/>
<rect x="65.4" y="225.0" width="1.8" height="2.6" fill="#9fdde6"/>
<circle cx="107.5" cy="146.0" r="0.9" fill="#a8dce6"/><circle cx="125.5" cy="202.3" r="0.8" fill="#8fcfe0"/><circle cx="63" cy="238" r="0.7" fill="#8fcadc"/>
<rect x="32.4" y="162.1" width="38.9" height="52.9" fill="none" stroke="#275872" stroke-width="0.6"/>
<path d="M37.7,169.3 L44,169.6 L49.9,170 L50.5,171 L50.7,206.4 L51.6,207.6 L56,208.2 L60,208.7 L64.2,209.7" fill="none" stroke="#275872" stroke-width="0.6"/>
<text class="se" x="31.00" y="168.60" font-size="3.6" text-anchor="end" fill="#275872" >16</text>
<line x1="32.4" y1="167.4" x2="33.4" y2="167.4" stroke="#275872" stroke-width="0.4"/>
<text class="se" x="31.00" y="178.60" font-size="3.6" text-anchor="end" fill="#275872" >12</text>
<line x1="32.4" y1="177.4" x2="33.4" y2="177.4" stroke="#275872" stroke-width="0.4"/>
<text class="se" x="31.00" y="189.20" font-size="3.6" text-anchor="end" fill="#275872" >8</text>
<line x1="32.4" y1="188.0" x2="33.4" y2="188.0" stroke="#275872" stroke-width="0.4"/>
<text class="se" x="31.00" y="200.00" font-size="3.6" text-anchor="end" fill="#275872" >4</text>
<line x1="32.4" y1="198.8" x2="33.4" y2="198.8" stroke="#275872" stroke-width="0.4"/>
<text class="se" x="31.00" y="210.60" font-size="3.6" text-anchor="end" fill="#275872" >0</text>
<line x1="32.4" y1="209.4" x2="33.4" y2="209.4" stroke="#275872" stroke-width="0.4"/>
<text class="se" x="38.50" y="218.60" font-size="3.6" text-anchor="middle" fill="#275872" >0</text>
<line x1="38.5" y1="215" x2="38.5" y2="214" stroke="#275872" stroke-width="0.4"/>
<text class="se" x="51.60" y="218.60" font-size="3.6" text-anchor="middle" fill="#275872" >5</text>
<line x1="51.6" y1="215" x2="51.6" y2="214" stroke="#275872" stroke-width="0.4"/>
<text class="se" x="64.70" y="218.60" font-size="3.6" text-anchor="middle" fill="#275872" >10</text>
<line x1="64.7" y1="215" x2="64.7" y2="214" stroke="#275872" stroke-width="0.4"/>
<text class="se" x="52.30" y="224.00" font-size="4.7" text-anchor="middle" fill="#275872" font-weight="bold">Length (um)</text>
<text class="se" transform="translate(26.2,188.5) rotate(-90)" font-size="4.7" font-weight="bold" text-anchor="middle" fill="#275872">Height (nm)</text>
<line x1="85.2" y1="197.3" x2="78.5" y2="184.8" stroke="#d8283c" stroke-width="0.9"/>
<path d="M78.22,184.27 L80.97,186.65 L78.68,187.88Z" fill="#d8283c"/>
<line x1="85.2" y1="197.3" x2="95.4" y2="187.8" stroke="#d8283c" stroke-width="0.9"/>
<path d="M95.84,187.39 L94.24,190.66 L92.47,188.76Z" fill="#d8283c"/>
<text class="se" x="75.20" y="179.60" font-size="8.3" text-anchor="start" fill="#0c1c24" >a axis</text>
<text class="se" x="99.60" y="194.50" font-size="8.5" text-anchor="start" fill="#0c1c24" >b axis</text>
<text class="se" x="23.60" y="242.80" font-size="7.9" text-anchor="start" fill="#0c1c24" >10um</text>
<rect x="25.0" y="245.5" width="12.3" height="1.3" fill="#0c1c24"/>
<text class="se" x="167.00" y="145.40" font-size="11.5" text-anchor="start" fill="#111" >(e)</text>
<path d="M210.30,243.0 v-2.0 M220.72,243.0 v-1.1 M231.13,243.0 v-2.0 M241.55,243.0 v-1.1 M251.97,243.0 v-2.0 M262.38,243.0 v-1.1 M272.80,243.0 v-2.0 M283.22,243.0 v-1.1 M293.63,243.0 v-2.0 M304.05,243.0 v-1.1 M314.47,243.0 v-2.0 M324.88,243.0 v-1.1 M335.30,243.0 v-2.0 M210.3,235.20 h2.0 M210.3,228.15 h1.1 M210.3,221.10 h2.0 M210.3,214.05 h1.1 M210.3,207.00 h2.0 M210.3,199.95 h1.1 M210.3,192.90 h2.0 M210.3,185.85 h1.1 M210.3,178.80 h2.0 M210.3,171.75 h1.1 M210.3,164.70 h2.0 M210.3,157.65 h1.1 M210.3,150.60 h2.0" stroke="#222" stroke-width="0.5" fill="none"/>
<text class="se" x="210.30" y="251.00" font-size="6.9" text-anchor="middle" fill="#111" >-3000</text>
<text class="se" x="231.13" y="251.00" font-size="6.9" text-anchor="middle" fill="#111" >-2000</text>
<text class="se" x="251.97" y="251.00" font-size="6.9" text-anchor="middle" fill="#111" >-1000</text>
<text class="se" x="272.80" y="251.00" font-size="6.9" text-anchor="middle" fill="#111" >0</text>
<text class="se" x="293.63" y="251.00" font-size="6.9" text-anchor="middle" fill="#111" >1000</text>
<text class="se" x="314.47" y="251.00" font-size="6.9" text-anchor="middle" fill="#111" >2000</text>
<text class="se" x="335.30" y="251.00" font-size="6.9" text-anchor="middle" fill="#111" >3000</text>
<text class="se" x="208.30" y="237.50" font-size="6.9" text-anchor="end" fill="#111" >-180</text>
<text class="se" x="208.30" y="223.40" font-size="6.9" text-anchor="end" fill="#111" >-120</text>
<text class="se" x="208.30" y="209.30" font-size="6.9" text-anchor="end" fill="#111" >-60</text>
<text class="se" x="208.30" y="195.20" font-size="6.9" text-anchor="end" fill="#111" >0</text>
<text class="se" x="208.30" y="181.10" font-size="6.9" text-anchor="end" fill="#111" >60</text>
<text class="se" x="208.30" y="167.00" font-size="6.9" text-anchor="end" fill="#111" >120</text>
<text class="se" x="208.30" y="152.90" font-size="6.9" text-anchor="end" fill="#111" >180</text>
<path d="M210.00,212.06 L211.50,211.65 L213.00,211.24 L214.50,210.83 L216.00,210.42 L217.50,210.01 L219.00,209.60 L220.50,209.19 L222.00,208.80 L223.50,208.43 L225.00,208.05 L226.50,207.68 L228.00,207.31 L229.50,206.93 L231.00,206.56 L232.50,206.18 L234.00,205.83 L235.50,205.50 L237.00,205.17 L238.50,204.85 L240.00,204.52 L241.50,204.19 L243.00,203.87 L244.50,203.47 L246.00,203.07 L247.50,202.68 L249.00,202.28 L250.50,201.88 L252.00,201.49 L253.50,201.08 L255.00,200.68 L256.50,200.27 L258.00,199.86 L259.50,199.45 L261.00,199.03 L262.50,198.62 L264.00,198.14 L265.50,197.50 L267.00,196.86 L268.50,196.04 L270.00,195.22 L271.50,194.54 L273.00,193.86 L274.50,193.10 L276.00,192.22 L277.50,191.33 L279.00,190.45 L280.50,189.56 L282.00,188.79 L283.50,188.18 L285.00,187.58 L286.50,187.19 L288.00,186.81 L289.50,186.43 L291.00,186.04 L292.50,185.65 L294.00,185.26 L295.50,184.87 L297.00,184.48 L298.50,184.10 L300.00,183.75 L301.50,183.41 L303.00,183.07 L304.50,182.73 L306.00,182.39 L307.50,182.05 L309.00,181.72 L310.50,181.40 L312.00,181.07 L313.50,180.75 L315.00,180.43 L316.50,180.10 L318.00,179.79 L319.50,179.47 L321.00,179.16 L322.50,178.84 L324.00,178.53 L325.50,178.22 L327.00,177.91 L328.50,177.61 L330.00,177.32 L331.50,177.02 L333.00,176.72 L334.50,176.42 L335.60,176.20" fill="none" stroke="#d43c14" stroke-width="2.2"/>
<circle cx="210.00" cy="212.06" r="1.2" fill="#fff" fill-opacity="0.6" stroke="#d43c14" stroke-width="0.5"/>
<circle cx="213.00" cy="211.24" r="1.2" fill="#fff" fill-opacity="0.6" stroke="#d43c14" stroke-width="0.5"/>
<circle cx="216.00" cy="210.42" r="1.2" fill="#fff" fill-opacity="0.6" stroke="#d43c14" stroke-width="0.5"/>
<circle cx="219.00" cy="209.60" r="1.2" fill="#fff" fill-opacity="0.6" stroke="#d43c14" stroke-width="0.5"/>
<circle cx="222.00" cy="208.80" r="1.2" fill="#fff" fill-opacity="0.6" stroke="#d43c14" stroke-width="0.5"/>
<circle cx="225.00" cy="208.05" r="1.2" fill="#fff" fill-opacity="0.6" stroke="#d43c14" stroke-width="0.5"/>
<circle cx="228.00" cy="207.31" r="1.2" fill="#fff" fill-opacity="0.6" stroke="#d43c14" stroke-width="0.5"/>
<circle cx="231.00" cy="206.56" r="1.2" fill="#fff" fill-opacity="0.6" stroke="#d43c14" stroke-width="0.5"/>
<circle cx="234.00" cy="205.83" r="1.2" fill="#fff" fill-opacity="0.6" stroke="#d43c14" stroke-width="0.5"/>
<circle cx="237.00" cy="205.17" r="1.2" fill="#fff" fill-opacity="0.6" stroke="#d43c14" stroke-width="0.5"/>
<circle cx="240.00" cy="204.52" r="1.2" fill="#fff" fill-opacity="0.6" stroke="#d43c14" stroke-width="0.5"/>
<circle cx="243.00" cy="203.87" r="1.2" fill="#fff" fill-opacity="0.6" stroke="#d43c14" stroke-width="0.5"/>
<circle cx="246.00" cy="203.07" r="1.2" fill="#fff" fill-opacity="0.6" stroke="#d43c14" stroke-width="0.5"/>
<circle cx="249.00" cy="202.28" r="1.2" fill="#fff" fill-opacity="0.6" stroke="#d43c14" stroke-width="0.5"/>
<circle cx="252.00" cy="201.49" r="1.2" fill="#fff" fill-opacity="0.6" stroke="#d43c14" stroke-width="0.5"/>
<circle cx="255.00" cy="200.68" r="1.2" fill="#fff" fill-opacity="0.6" stroke="#d43c14" stroke-width="0.5"/>
<circle cx="258.00" cy="199.86" r="1.2" fill="#fff" fill-opacity="0.6" stroke="#d43c14" stroke-width="0.5"/>
<circle cx="261.00" cy="199.03" r="1.2" fill="#fff" fill-opacity="0.6" stroke="#d43c14" stroke-width="0.5"/>
<circle cx="264.00" cy="198.14" r="1.2" fill="#fff" fill-opacity="0.6" stroke="#d43c14" stroke-width="0.5"/>
<circle cx="267.00" cy="196.86" r="1.2" fill="#fff" fill-opacity="0.6" stroke="#d43c14" stroke-width="0.5"/>
<circle cx="270.00" cy="195.22" r="1.2" fill="#fff" fill-opacity="0.6" stroke="#d43c14" stroke-width="0.5"/>
<circle cx="273.00" cy="193.86" r="1.2" fill="#fff" fill-opacity="0.6" stroke="#d43c14" stroke-width="0.5"/>
<circle cx="276.00" cy="192.22" r="1.2" fill="#fff" fill-opacity="0.6" stroke="#d43c14" stroke-width="0.5"/>
<circle cx="279.00" cy="190.45" r="1.2" fill="#fff" fill-opacity="0.6" stroke="#d43c14" stroke-width="0.5"/>
<circle cx="282.00" cy="188.79" r="1.2" fill="#fff" fill-opacity="0.6" stroke="#d43c14" stroke-width="0.5"/>
<circle cx="285.00" cy="187.58" r="1.2" fill="#fff" fill-opacity="0.6" stroke="#d43c14" stroke-width="0.5"/>
<circle cx="288.00" cy="186.81" r="1.2" fill="#fff" fill-opacity="0.6" stroke="#d43c14" stroke-width="0.5"/>
<circle cx="291.00" cy="186.04" r="1.2" fill="#fff" fill-opacity="0.6" stroke="#d43c14" stroke-width="0.5"/>
<circle cx="294.00" cy="185.26" r="1.2" fill="#fff" fill-opacity="0.6" stroke="#d43c14" stroke-width="0.5"/>
<circle cx="297.00" cy="184.48" r="1.2" fill="#fff" fill-opacity="0.6" stroke="#d43c14" stroke-width="0.5"/>
<circle cx="300.00" cy="183.75" r="1.2" fill="#fff" fill-opacity="0.6" stroke="#d43c14" stroke-width="0.5"/>
<circle cx="303.00" cy="183.07" r="1.2" fill="#fff" fill-opacity="0.6" stroke="#d43c14" stroke-width="0.5"/>
<circle cx="306.00" cy="182.39" r="1.2" fill="#fff" fill-opacity="0.6" stroke="#d43c14" stroke-width="0.5"/>
<circle cx="309.00" cy="181.72" r="1.2" fill="#fff" fill-opacity="0.6" stroke="#d43c14" stroke-width="0.5"/>
<circle cx="312.00" cy="181.07" r="1.2" fill="#fff" fill-opacity="0.6" stroke="#d43c14" stroke-width="0.5"/>
<circle cx="315.00" cy="180.43" r="1.2" fill="#fff" fill-opacity="0.6" stroke="#d43c14" stroke-width="0.5"/>
<circle cx="318.00" cy="179.79" r="1.2" fill="#fff" fill-opacity="0.6" stroke="#d43c14" stroke-width="0.5"/>
<circle cx="321.00" cy="179.16" r="1.2" fill="#fff" fill-opacity="0.6" stroke="#d43c14" stroke-width="0.5"/>
<circle cx="324.00" cy="178.53" r="1.2" fill="#fff" fill-opacity="0.6" stroke="#d43c14" stroke-width="0.5"/>
<circle cx="327.00" cy="177.91" r="1.2" fill="#fff" fill-opacity="0.6" stroke="#d43c14" stroke-width="0.5"/>
<circle cx="330.00" cy="177.32" r="1.2" fill="#fff" fill-opacity="0.6" stroke="#d43c14" stroke-width="0.5"/>
<circle cx="333.00" cy="176.72" r="1.2" fill="#fff" fill-opacity="0.6" stroke="#d43c14" stroke-width="0.5"/>
<circle cx="335.60" cy="176.20" r="1.2" fill="#fff" fill-opacity="0.6" stroke="#d43c14" stroke-width="0.5"/>
<path d="M210.00,213.90 L221.00,210.60 L233.40,207.20 L243.00,204.90 L252.30,202.20 L258.00,200.50 L263.60,198.80 L267.00,197.20 L270.00,195.40 L274.00,193.40 L278.00,190.80 L281.40,188.60 L285.00,187.00 L290.00,185.60 L298.40,183.20 L308.00,180.80 L317.30,178.60 L326.00,176.60 L335.60,174.50" fill="none" stroke="#34f034" stroke-width="3.6" stroke-linejoin="round"/>
<path d="M210.00,212.20 L211.60,215.10 L208.40,215.10Z" fill="#b8ffb8" fill-opacity="0.8" stroke="#2cec2c" stroke-width="0.5"/>
<path d="M213.00,211.30 L214.60,214.20 L211.40,214.20Z" fill="#b8ffb8" fill-opacity="0.8" stroke="#2cec2c" stroke-width="0.5"/>
<path d="M216.00,210.40 L217.60,213.30 L214.40,213.30Z" fill="#b8ffb8" fill-opacity="0.8" stroke="#2cec2c" stroke-width="0.5"/>
<path d="M219.00,209.50 L220.60,212.40 L217.40,212.40Z" fill="#b8ffb8" fill-opacity="0.8" stroke="#2cec2c" stroke-width="0.5"/>
<path d="M222.00,208.63 L223.60,211.53 L220.40,211.53Z" fill="#b8ffb8" fill-opacity="0.8" stroke="#2cec2c" stroke-width="0.5"/>
<path d="M225.00,207.80 L226.60,210.70 L223.40,210.70Z" fill="#b8ffb8" fill-opacity="0.8" stroke="#2cec2c" stroke-width="0.5"/>
<path d="M228.00,206.98 L229.60,209.88 L226.40,209.88Z" fill="#b8ffb8" fill-opacity="0.8" stroke="#2cec2c" stroke-width="0.5"/>
<path d="M231.00,206.16 L232.60,209.06 L229.40,209.06Z" fill="#b8ffb8" fill-opacity="0.8" stroke="#2cec2c" stroke-width="0.5"/>
<path d="M234.00,205.36 L235.60,208.26 L232.40,208.26Z" fill="#b8ffb8" fill-opacity="0.8" stroke="#2cec2c" stroke-width="0.5"/>
<path d="M237.00,204.64 L238.60,207.54 L235.40,207.54Z" fill="#b8ffb8" fill-opacity="0.8" stroke="#2cec2c" stroke-width="0.5"/>
<path d="M240.00,203.92 L241.60,206.82 L238.40,206.82Z" fill="#b8ffb8" fill-opacity="0.8" stroke="#2cec2c" stroke-width="0.5"/>
<path d="M243.00,203.20 L244.60,206.10 L241.40,206.10Z" fill="#b8ffb8" fill-opacity="0.8" stroke="#2cec2c" stroke-width="0.5"/>
<path d="M246.00,202.33 L247.60,205.23 L244.40,205.23Z" fill="#b8ffb8" fill-opacity="0.8" stroke="#2cec2c" stroke-width="0.5"/>
<path d="M249.00,201.46 L250.60,204.36 L247.40,204.36Z" fill="#b8ffb8" fill-opacity="0.8" stroke="#2cec2c" stroke-width="0.5"/>
<path d="M252.00,200.59 L253.60,203.49 L250.40,203.49Z" fill="#b8ffb8" fill-opacity="0.8" stroke="#2cec2c" stroke-width="0.5"/>
<path d="M255.00,199.69 L256.60,202.59 L253.40,202.59Z" fill="#b8ffb8" fill-opacity="0.8" stroke="#2cec2c" stroke-width="0.5"/>
<path d="M258.00,198.80 L259.60,201.70 L256.40,201.70Z" fill="#b8ffb8" fill-opacity="0.8" stroke="#2cec2c" stroke-width="0.5"/>
<path d="M261.00,197.89 L262.60,200.79 L259.40,200.79Z" fill="#b8ffb8" fill-opacity="0.8" stroke="#2cec2c" stroke-width="0.5"/>
<path d="M264.00,196.91 L265.60,199.81 L262.40,199.81Z" fill="#b8ffb8" fill-opacity="0.8" stroke="#2cec2c" stroke-width="0.5"/>
<path d="M267.00,195.50 L268.60,198.40 L265.40,198.40Z" fill="#b8ffb8" fill-opacity="0.8" stroke="#2cec2c" stroke-width="0.5"/>
<path d="M270.00,193.70 L271.60,196.60 L268.40,196.60Z" fill="#b8ffb8" fill-opacity="0.8" stroke="#2cec2c" stroke-width="0.5"/>
<path d="M273.00,192.20 L274.60,195.10 L271.40,195.10Z" fill="#b8ffb8" fill-opacity="0.8" stroke="#2cec2c" stroke-width="0.5"/>
<path d="M276.00,190.40 L277.60,193.30 L274.40,193.30Z" fill="#b8ffb8" fill-opacity="0.8" stroke="#2cec2c" stroke-width="0.5"/>
<path d="M279.00,188.45 L280.60,191.35 L277.40,191.35Z" fill="#b8ffb8" fill-opacity="0.8" stroke="#2cec2c" stroke-width="0.5"/>
<path d="M282.00,186.63 L283.60,189.53 L280.40,189.53Z" fill="#b8ffb8" fill-opacity="0.8" stroke="#2cec2c" stroke-width="0.5"/>
<path d="M285.00,185.30 L286.60,188.20 L283.40,188.20Z" fill="#b8ffb8" fill-opacity="0.8" stroke="#2cec2c" stroke-width="0.5"/>
<path d="M288.00,184.46 L289.60,187.36 L286.40,187.36Z" fill="#b8ffb8" fill-opacity="0.8" stroke="#2cec2c" stroke-width="0.5"/>
<path d="M291.00,183.61 L292.60,186.51 L289.40,186.51Z" fill="#b8ffb8" fill-opacity="0.8" stroke="#2cec2c" stroke-width="0.5"/>
<path d="M294.00,182.76 L295.60,185.66 L292.40,185.66Z" fill="#b8ffb8" fill-opacity="0.8" stroke="#2cec2c" stroke-width="0.5"/>
<path d="M297.00,181.90 L298.60,184.80 L295.40,184.80Z" fill="#b8ffb8" fill-opacity="0.8" stroke="#2cec2c" stroke-width="0.5"/>
<path d="M300.00,181.10 L301.60,184.00 L298.40,184.00Z" fill="#b8ffb8" fill-opacity="0.8" stroke="#2cec2c" stroke-width="0.5"/>
<path d="M303.00,180.35 L304.60,183.25 L301.40,183.25Z" fill="#b8ffb8" fill-opacity="0.8" stroke="#2cec2c" stroke-width="0.5"/>
<path d="M306.00,179.60 L307.60,182.50 L304.40,182.50Z" fill="#b8ffb8" fill-opacity="0.8" stroke="#2cec2c" stroke-width="0.5"/>
<path d="M309.00,178.86 L310.60,181.76 L307.40,181.76Z" fill="#b8ffb8" fill-opacity="0.8" stroke="#2cec2c" stroke-width="0.5"/>
<path d="M312.00,178.15 L313.60,181.05 L310.40,181.05Z" fill="#b8ffb8" fill-opacity="0.8" stroke="#2cec2c" stroke-width="0.5"/>
<path d="M315.00,177.44 L316.60,180.34 L313.40,180.34Z" fill="#b8ffb8" fill-opacity="0.8" stroke="#2cec2c" stroke-width="0.5"/>
<path d="M318.00,176.74 L319.60,179.64 L316.40,179.64Z" fill="#b8ffb8" fill-opacity="0.8" stroke="#2cec2c" stroke-width="0.5"/>
<path d="M321.00,176.05 L322.60,178.95 L319.40,178.95Z" fill="#b8ffb8" fill-opacity="0.8" stroke="#2cec2c" stroke-width="0.5"/>
<path d="M324.00,175.36 L325.60,178.26 L322.40,178.26Z" fill="#b8ffb8" fill-opacity="0.8" stroke="#2cec2c" stroke-width="0.5"/>
<path d="M327.00,174.68 L328.60,177.58 L325.40,177.58Z" fill="#b8ffb8" fill-opacity="0.8" stroke="#2cec2c" stroke-width="0.5"/>
<path d="M330.00,174.03 L331.60,176.92 L328.40,176.92Z" fill="#b8ffb8" fill-opacity="0.8" stroke="#2cec2c" stroke-width="0.5"/>
<path d="M333.00,173.37 L334.60,176.27 L331.40,176.27Z" fill="#b8ffb8" fill-opacity="0.8" stroke="#2cec2c" stroke-width="0.5"/>
<path d="M335.60,172.80 L337.20,175.70 L334.00,175.70Z" fill="#b8ffb8" fill-opacity="0.8" stroke="#2cec2c" stroke-width="0.5"/>
<path d="M335.60,154.20 L300.00,154.60 L292.00,154.70 L266.40,155.00 L265.30,156.50 L264.90,175.00 L264.30,192.00 L263.20,204.50 L261.70,213.90 L259.40,223.40 L257.50,227.50 L254.50,230.20 L248.00,231.00 L210.00,231.30" fill="none" stroke="#1414dc" stroke-width="1.3" stroke-linejoin="round"/>
<path d="M210.00,231.30 L270.00,231.10 L279.30,230.80 L280.10,228.50 L280.60,205.00 L281.20,193.00 L281.90,182.90 L282.90,173.40 L284.80,163.90 L287.00,158.60 L289.50,156.20 L293.00,155.00 L300.00,154.60 L335.60,154.20" fill="none" stroke="#1414dc" stroke-width="1.3" stroke-linejoin="round"/>
<rect x="209.75" y="230.12" width="2.5" height="2.5" fill="#fff" fill-opacity="0.75" stroke="#1414dc" stroke-width="0.55"/>
<rect x="210.55" y="230.04" width="2.5" height="2.5" fill="#fff" fill-opacity="0.75" stroke="#1414dc" stroke-width="0.55"/>
<rect x="211.65" y="230.36" width="2.5" height="2.5" fill="#fff" fill-opacity="0.75" stroke="#1414dc" stroke-width="0.55"/>
<rect x="212.45" y="230.28" width="2.5" height="2.5" fill="#fff" fill-opacity="0.75" stroke="#1414dc" stroke-width="0.55"/>
<rect x="213.55" y="230.29" width="2.5" height="2.5" fill="#fff" fill-opacity="0.75" stroke="#1414dc" stroke-width="0.55"/>
<rect x="214.35" y="230.26" width="2.5" height="2.5" fill="#fff" fill-opacity="0.75" stroke="#1414dc" stroke-width="0.55"/>
<rect x="215.45" y="229.29" width="2.5" height="2.5" fill="#fff" fill-opacity="0.75" stroke="#1414dc" stroke-width="0.55"/>
<rect x="216.25" y="229.71" width="2.5" height="2.5" fill="#fff" fill-opacity="0.75" stroke="#1414dc" stroke-width="0.55"/>
<rect x="217.35" y="230.57" width="2.5" height="2.5" fill="#fff" fill-opacity="0.75" stroke="#1414dc" stroke-width="0.55"/>
<rect x="218.15" y="229.93" width="2.5" height="2.5" fill="#fff" fill-opacity="0.75" stroke="#1414dc" stroke-width="0.55"/>
<rect x="219.25" y="230.51" width="2.5" height="2.5" fill="#fff" fill-opacity="0.75" stroke="#1414dc" stroke-width="0.55"/>
<rect x="220.05" y="229.29" width="2.5" height="2.5" fill="#fff" fill-opacity="0.75" stroke="#1414dc" stroke-width="0.55"/>
<rect x="221.15" y="229.91" width="2.5" height="2.5" fill="#fff" fill-opacity="0.75" stroke="#1414dc" stroke-width="0.55"/>
<rect x="221.95" y="229.45" width="2.5" height="2.5" fill="#fff" fill-opacity="0.75" stroke="#1414dc" stroke-width="0.55"/>
<rect x="223.05" y="230.01" width="2.5" height="2.5" fill="#fff" fill-opacity="0.75" stroke="#1414dc" stroke-width="0.55"/>
<rect x="223.85" y="229.84" width="2.5" height="2.5" fill="#fff" fill-opacity="0.75" stroke="#1414dc" stroke-width="0.55"/>
<rect x="224.95" y="229.27" width="2.5" height="2.5" fill="#fff" fill-opacity="0.75" stroke="#1414dc" stroke-width="0.55"/>
<rect x="225.75" y="229.41" width="2.5" height="2.5" fill="#fff" fill-opacity="0.75" stroke="#1414dc" stroke-width="0.55"/>
<rect x="226.85" y="229.64" width="2.5" height="2.5" fill="#fff" fill-opacity="0.75" stroke="#1414dc" stroke-width="0.55"/>
<rect x="227.65" y="230.25" width="2.5" height="2.5" fill="#fff" fill-opacity="0.75" stroke="#1414dc" stroke-width="0.55"/>
<rect x="228.75" y="230.32" width="2.5" height="2.5" fill="#fff" fill-opacity="0.75" stroke="#1414dc" stroke-width="0.55"/>
<rect x="229.55" y="229.34" width="2.5" height="2.5" fill="#fff" fill-opacity="0.75" stroke="#1414dc" stroke-width="0.55"/>
<rect x="230.65" y="230.37" width="2.5" height="2.5" fill="#fff" fill-opacity="0.75" stroke="#1414dc" stroke-width="0.55"/>
<rect x="231.45" y="229.32" width="2.5" height="2.5" fill="#fff" fill-opacity="0.75" stroke="#1414dc" stroke-width="0.55"/>
<rect x="232.55" y="230.11" width="2.5" height="2.5" fill="#fff" fill-opacity="0.75" stroke="#1414dc" stroke-width="0.55"/>
<rect x="233.35" y="229.30" width="2.5" height="2.5" fill="#fff" fill-opacity="0.75" stroke="#1414dc" stroke-width="0.55"/>
<rect x="234.45" y="229.25" width="2.5" height="2.5" fill="#fff" fill-opacity="0.75" stroke="#1414dc" stroke-width="0.55"/>
<rect x="235.25" y="230.20" width="2.5" height="2.5" fill="#fff" fill-opacity="0.75" stroke="#1414dc" stroke-width="0.55"/>
<rect x="236.35" y="229.54" width="2.5" height="2.5" fill="#fff" fill-opacity="0.75" stroke="#1414dc" stroke-width="0.55"/>
<rect x="237.15" y="229.41" width="2.5" height="2.5" fill="#fff" fill-opacity="0.75" stroke="#1414dc" stroke-width="0.55"/>
<rect x="238.25" y="230.63" width="2.5" height="2.5" fill="#fff" fill-opacity="0.75" stroke="#1414dc" stroke-width="0.55"/>
<rect x="239.05" y="230.20" width="2.5" height="2.5" fill="#fff" fill-opacity="0.75" stroke="#1414dc" stroke-width="0.55"/>
<rect x="240.15" y="229.66" width="2.5" height="2.5" fill="#fff" fill-opacity="0.75" stroke="#1414dc" stroke-width="0.55"/>
<rect x="240.95" y="230.30" width="2.5" height="2.5" fill="#fff" fill-opacity="0.75" stroke="#1414dc" stroke-width="0.55"/>
<rect x="242.05" y="230.00" width="2.5" height="2.5" fill="#fff" fill-opacity="0.75" stroke="#1414dc" stroke-width="0.55"/>
<rect x="242.85" y="229.96" width="2.5" height="2.5" fill="#fff" fill-opacity="0.75" stroke="#1414dc" stroke-width="0.55"/>
<rect x="243.95" y="229.54" width="2.5" height="2.5" fill="#fff" fill-opacity="0.75" stroke="#1414dc" stroke-width="0.55"/>
<rect x="244.75" y="230.28" width="2.5" height="2.5" fill="#fff" fill-opacity="0.75" stroke="#1414dc" stroke-width="0.55"/>
<rect x="245.85" y="230.22" width="2.5" height="2.5" fill="#fff" fill-opacity="0.75" stroke="#1414dc" stroke-width="0.55"/>
<rect x="246.65" y="230.31" width="2.5" height="2.5" fill="#fff" fill-opacity="0.75" stroke="#1414dc" stroke-width="0.55"/>
<rect x="247.75" y="230.50" width="2.5" height="2.5" fill="#fff" fill-opacity="0.75" stroke="#1414dc" stroke-width="0.55"/>
<rect x="248.55" y="229.51" width="2.5" height="2.5" fill="#fff" fill-opacity="0.75" stroke="#1414dc" stroke-width="0.55"/>
<rect x="249.65" y="229.76" width="2.5" height="2.5" fill="#fff" fill-opacity="0.75" stroke="#1414dc" stroke-width="0.55"/>
<rect x="250.45" y="229.35" width="2.5" height="2.5" fill="#fff" fill-opacity="0.75" stroke="#1414dc" stroke-width="0.55"/>
<rect x="251.55" y="229.45" width="2.5" height="2.5" fill="#fff" fill-opacity="0.75" stroke="#1414dc" stroke-width="0.55"/>
<rect x="252.35" y="229.23" width="2.5" height="2.5" fill="#fff" fill-opacity="0.75" stroke="#1414dc" stroke-width="0.55"/>
<rect x="253.45" y="229.67" width="2.5" height="2.5" fill="#fff" fill-opacity="0.75" stroke="#1414dc" stroke-width="0.55"/>
<rect x="254.25" y="229.87" width="2.5" height="2.5" fill="#fff" fill-opacity="0.75" stroke="#1414dc" stroke-width="0.55"/>
<rect x="256.15" y="229.15" width="2.5" height="2.5" fill="#fff" fill-opacity="0.75" stroke="#1414dc" stroke-width="0.55"/>
<rect x="258.05" y="229.96" width="2.5" height="2.5" fill="#fff" fill-opacity="0.75" stroke="#1414dc" stroke-width="0.55"/>
<rect x="259.95" y="229.56" width="2.5" height="2.5" fill="#fff" fill-opacity="0.75" stroke="#1414dc" stroke-width="0.55"/>
<rect x="261.85" y="229.52" width="2.5" height="2.5" fill="#fff" fill-opacity="0.75" stroke="#1414dc" stroke-width="0.55"/>
<rect x="263.75" y="230.13" width="2.5" height="2.5" fill="#fff" fill-opacity="0.75" stroke="#1414dc" stroke-width="0.55"/>
<rect x="265.65" y="229.73" width="2.5" height="2.5" fill="#fff" fill-opacity="0.75" stroke="#1414dc" stroke-width="0.55"/>
<rect x="267.55" y="229.53" width="2.5" height="2.5" fill="#fff" fill-opacity="0.75" stroke="#1414dc" stroke-width="0.55"/>
<rect x="266.75" y="153.42" width="2.5" height="2.5" fill="#fff" fill-opacity="0.75" stroke="#1414dc" stroke-width="0.55"/>
<rect x="269.45" y="230.00" width="2.5" height="2.5" fill="#fff" fill-opacity="0.75" stroke="#1414dc" stroke-width="0.55"/>
<rect x="268.65" y="152.83" width="2.5" height="2.5" fill="#fff" fill-opacity="0.75" stroke="#1414dc" stroke-width="0.55"/>
<rect x="271.35" y="230.32" width="2.5" height="2.5" fill="#fff" fill-opacity="0.75" stroke="#1414dc" stroke-width="0.55"/>
<rect x="270.55" y="152.78" width="2.5" height="2.5" fill="#fff" fill-opacity="0.75" stroke="#1414dc" stroke-width="0.55"/>
<rect x="273.25" y="230.05" width="2.5" height="2.5" fill="#fff" fill-opacity="0.75" stroke="#1414dc" stroke-width="0.55"/>
<rect x="272.45" y="153.93" width="2.5" height="2.5" fill="#fff" fill-opacity="0.75" stroke="#1414dc" stroke-width="0.55"/>
<rect x="275.15" y="229.17" width="2.5" height="2.5" fill="#fff" fill-opacity="0.75" stroke="#1414dc" stroke-width="0.55"/>
<rect x="274.35" y="153.85" width="2.5" height="2.5" fill="#fff" fill-opacity="0.75" stroke="#1414dc" stroke-width="0.55"/>
<rect x="277.05" y="229.59" width="2.5" height="2.5" fill="#fff" fill-opacity="0.75" stroke="#1414dc" stroke-width="0.55"/>
<rect x="276.25" y="153.56" width="2.5" height="2.5" fill="#fff" fill-opacity="0.75" stroke="#1414dc" stroke-width="0.55"/>
<rect x="278.15" y="152.76" width="2.5" height="2.5" fill="#fff" fill-opacity="0.75" stroke="#1414dc" stroke-width="0.55"/>
<rect x="280.05" y="152.82" width="2.5" height="2.5" fill="#fff" fill-opacity="0.75" stroke="#1414dc" stroke-width="0.55"/>
<rect x="281.95" y="153.00" width="2.5" height="2.5" fill="#fff" fill-opacity="0.75" stroke="#1414dc" stroke-width="0.55"/>
<rect x="283.85" y="154.09" width="2.5" height="2.5" fill="#fff" fill-opacity="0.75" stroke="#1414dc" stroke-width="0.55"/>
<rect x="285.75" y="153.03" width="2.5" height="2.5" fill="#fff" fill-opacity="0.75" stroke="#1414dc" stroke-width="0.55"/>
<rect x="287.65" y="153.81" width="2.5" height="2.5" fill="#fff" fill-opacity="0.75" stroke="#1414dc" stroke-width="0.55"/>
<rect x="289.55" y="154.05" width="2.5" height="2.5" fill="#fff" fill-opacity="0.75" stroke="#1414dc" stroke-width="0.55"/>
<rect x="291.45" y="154.07" width="2.5" height="2.5" fill="#fff" fill-opacity="0.75" stroke="#1414dc" stroke-width="0.55"/>
<rect x="292.25" y="153.03" width="2.5" height="2.5" fill="#fff" fill-opacity="0.75" stroke="#1414dc" stroke-width="0.55"/>
<rect x="293.35" y="153.25" width="2.5" height="2.5" fill="#fff" fill-opacity="0.75" stroke="#1414dc" stroke-width="0.55"/>
<rect x="294.15" y="153.28" width="2.5" height="2.5" fill="#fff" fill-opacity="0.75" stroke="#1414dc" stroke-width="0.55"/>
<rect x="295.25" y="153.84" width="2.5" height="2.5" fill="#fff" fill-opacity="0.75" stroke="#1414dc" stroke-width="0.55"/>
<rect x="296.05" y="152.70" width="2.5" height="2.5" fill="#fff" fill-opacity="0.75" stroke="#1414dc" stroke-width="0.55"/>
<rect x="297.15" y="153.80" width="2.5" height="2.5" fill="#fff" fill-opacity="0.75" stroke="#1414dc" stroke-width="0.55"/>
<rect x="297.95" y="153.67" width="2.5" height="2.5" fill="#fff" fill-opacity="0.75" stroke="#1414dc" stroke-width="0.55"/>
<rect x="299.05" y="153.95" width="2.5" height="2.5" fill="#fff" fill-opacity="0.75" stroke="#1414dc" stroke-width="0.55"/>
<rect x="299.85" y="152.60" width="2.5" height="2.5" fill="#fff" fill-opacity="0.75" stroke="#1414dc" stroke-width="0.55"/>
<rect x="300.95" y="154.07" width="2.5" height="2.5" fill="#fff" fill-opacity="0.75" stroke="#1414dc" stroke-width="0.55"/>
<rect x="301.75" y="152.68" width="2.5" height="2.5" fill="#fff" fill-opacity="0.75" stroke="#1414dc" stroke-width="0.55"/>
<rect x="302.85" y="153.23" width="2.5" height="2.5" fill="#fff" fill-opacity="0.75" stroke="#1414dc" stroke-width="0.55"/>
<rect x="303.65" y="153.41" width="2.5" height="2.5" fill="#fff" fill-opacity="0.75" stroke="#1414dc" stroke-width="0.55"/>
<rect x="304.75" y="154.04" width="2.5" height="2.5" fill="#fff" fill-opacity="0.75" stroke="#1414dc" stroke-width="0.55"/>
<rect x="305.55" y="153.03" width="2.5" height="2.5" fill="#fff" fill-opacity="0.75" stroke="#1414dc" stroke-width="0.55"/>
<rect x="306.65" y="154.04" width="2.5" height="2.5" fill="#fff" fill-opacity="0.75" stroke="#1414dc" stroke-width="0.55"/>
<rect x="307.45" y="153.31" width="2.5" height="2.5" fill="#fff" fill-opacity="0.75" stroke="#1414dc" stroke-width="0.55"/>
<rect x="308.55" y="153.19" width="2.5" height="2.5" fill="#fff" fill-opacity="0.75" stroke="#1414dc" stroke-width="0.55"/>
<rect x="309.35" y="152.99" width="2.5" height="2.5" fill="#fff" fill-opacity="0.75" stroke="#1414dc" stroke-width="0.55"/>
<rect x="310.45" y="153.00" width="2.5" height="2.5" fill="#fff" fill-opacity="0.75" stroke="#1414dc" stroke-width="0.55"/>
<rect x="311.25" y="152.66" width="2.5" height="2.5" fill="#fff" fill-opacity="0.75" stroke="#1414dc" stroke-width="0.55"/>
<rect x="312.35" y="152.96" width="2.5" height="2.5" fill="#fff" fill-opacity="0.75" stroke="#1414dc" stroke-width="0.55"/>
<rect x="313.15" y="153.51" width="2.5" height="2.5" fill="#fff" fill-opacity="0.75" stroke="#1414dc" stroke-width="0.55"/>
<rect x="314.25" y="154.15" width="2.5" height="2.5" fill="#fff" fill-opacity="0.75" stroke="#1414dc" stroke-width="0.55"/>
<rect x="315.05" y="152.78" width="2.5" height="2.5" fill="#fff" fill-opacity="0.75" stroke="#1414dc" stroke-width="0.55"/>
<rect x="316.15" y="152.82" width="2.5" height="2.5" fill="#fff" fill-opacity="0.75" stroke="#1414dc" stroke-width="0.55"/>
<rect x="316.95" y="153.93" width="2.5" height="2.5" fill="#fff" fill-opacity="0.75" stroke="#1414dc" stroke-width="0.55"/>
<rect x="318.05" y="153.50" width="2.5" height="2.5" fill="#fff" fill-opacity="0.75" stroke="#1414dc" stroke-width="0.55"/>
<rect x="318.85" y="153.12" width="2.5" height="2.5" fill="#fff" fill-opacity="0.75" stroke="#1414dc" stroke-width="0.55"/>
<rect x="319.95" y="153.08" width="2.5" height="2.5" fill="#fff" fill-opacity="0.75" stroke="#1414dc" stroke-width="0.55"/>
<rect x="320.75" y="153.38" width="2.5" height="2.5" fill="#fff" fill-opacity="0.75" stroke="#1414dc" stroke-width="0.55"/>
<rect x="321.85" y="153.91" width="2.5" height="2.5" fill="#fff" fill-opacity="0.75" stroke="#1414dc" stroke-width="0.55"/>
<rect x="322.65" y="153.19" width="2.5" height="2.5" fill="#fff" fill-opacity="0.75" stroke="#1414dc" stroke-width="0.55"/>
<rect x="323.75" y="153.34" width="2.5" height="2.5" fill="#fff" fill-opacity="0.75" stroke="#1414dc" stroke-width="0.55"/>
<rect x="324.55" y="152.63" width="2.5" height="2.5" fill="#fff" fill-opacity="0.75" stroke="#1414dc" stroke-width="0.55"/>
<rect x="325.65" y="154.03" width="2.5" height="2.5" fill="#fff" fill-opacity="0.75" stroke="#1414dc" stroke-width="0.55"/>
<rect x="326.45" y="152.60" width="2.5" height="2.5" fill="#fff" fill-opacity="0.75" stroke="#1414dc" stroke-width="0.55"/>
<rect x="327.55" y="153.44" width="2.5" height="2.5" fill="#fff" fill-opacity="0.75" stroke="#1414dc" stroke-width="0.55"/>
<rect x="328.35" y="153.72" width="2.5" height="2.5" fill="#fff" fill-opacity="0.75" stroke="#1414dc" stroke-width="0.55"/>
<rect x="329.45" y="152.93" width="2.5" height="2.5" fill="#fff" fill-opacity="0.75" stroke="#1414dc" stroke-width="0.55"/>
<rect x="330.25" y="153.57" width="2.5" height="2.5" fill="#fff" fill-opacity="0.75" stroke="#1414dc" stroke-width="0.55"/>
<rect x="331.35" y="154.08" width="2.5" height="2.5" fill="#fff" fill-opacity="0.75" stroke="#1414dc" stroke-width="0.55"/>
<rect x="332.15" y="153.43" width="2.5" height="2.5" fill="#fff" fill-opacity="0.75" stroke="#1414dc" stroke-width="0.55"/>
<rect x="333.25" y="153.85" width="2.5" height="2.5" fill="#fff" fill-opacity="0.75" stroke="#1414dc" stroke-width="0.55"/>
<rect x="334.05" y="152.70" width="2.5" height="2.5" fill="#fff" fill-opacity="0.75" stroke="#1414dc" stroke-width="0.55"/>
<rect x="263.65" y="182.55" width="2.5" height="2.5" fill="#fff" fill-opacity="1" stroke="#1414dc" stroke-width="0.55"/>
<rect x="262.25" y="199.75" width="2.5" height="2.5" fill="#fff" fill-opacity="1" stroke="#1414dc" stroke-width="0.55"/>
<rect x="261.05" y="208.75" width="2.5" height="2.5" fill="#fff" fill-opacity="1" stroke="#1414dc" stroke-width="0.55"/>
<rect x="259.35" y="217.25" width="2.5" height="2.5" fill="#fff" fill-opacity="1" stroke="#1414dc" stroke-width="0.55"/>
<rect x="257.35" y="224.25" width="2.5" height="2.5" fill="#fff" fill-opacity="1" stroke="#1414dc" stroke-width="0.55"/>
<rect x="279.15" y="215.75" width="2.5" height="2.5" fill="#fff" fill-opacity="1" stroke="#1414dc" stroke-width="0.55"/>
<rect x="279.55" y="199.75" width="2.5" height="2.5" fill="#fff" fill-opacity="1" stroke="#1414dc" stroke-width="0.55"/>
<rect x="280.45" y="184.25" width="2.5" height="2.5" fill="#fff" fill-opacity="1" stroke="#1414dc" stroke-width="0.55"/>
<rect x="281.35" y="174.75" width="2.5" height="2.5" fill="#fff" fill-opacity="1" stroke="#1414dc" stroke-width="0.55"/>
<rect x="282.35" y="167.75" width="2.5" height="2.5" fill="#fff" fill-opacity="1" stroke="#1414dc" stroke-width="0.55"/>
<rect x="283.75" y="162.25" width="2.5" height="2.5" fill="#fff" fill-opacity="1" stroke="#1414dc" stroke-width="0.55"/>
<rect x="285.35" y="158.25" width="2.5" height="2.5" fill="#fff" fill-opacity="1" stroke="#1414dc" stroke-width="0.55"/>
<rect x="287.35" y="155.75" width="2.5" height="2.5" fill="#fff" fill-opacity="1" stroke="#1414dc" stroke-width="0.55"/>
<rect x="289.55" y="154.35" width="2.5" height="2.5" fill="#fff" fill-opacity="1" stroke="#1414dc" stroke-width="0.55"/>
<rect x="210.3" y="143.5" width="125.0" height="99.5" fill="none" stroke="#4a4a4a" stroke-width="0.7"/>
<rect x="211.3" y="144.5" width="31.2" height="25.1" fill="#fff" stroke="#c8c8c8" stroke-width="0.5"/>
<line x1="214" y1="149.0" x2="226.4" y2="149.0" stroke="#1010d8" stroke-width="1.2"/>
<rect x="219" y="147.8" width="2.4" height="2.4" fill="#fff" stroke="#1010d8" stroke-width="0.6"/>
<text class="se" x="228.00" y="151.40" font-size="6.9" text-anchor="start" fill="#181830" >OP:z</text>
<line x1="214" y1="157.3" x2="226.4" y2="157.3" stroke="#d03818" stroke-width="1.2"/>
<circle cx="220.2" cy="157.3" r="1.3" fill="#fff" stroke="#d03818" stroke-width="0.6"/>
<text class="se" x="228.00" y="159.70" font-size="6.9" text-anchor="start" fill="#181830" >IP:x</text>
<line x1="214" y1="165.4" x2="226.4" y2="165.4" stroke="#30e030" stroke-width="1.2"/>
<path d="M220.2,163.8 L221.7,166.5 L218.7,166.5Z" fill="#fff" stroke="#30e030" stroke-width="0.6"/>
<text class="se" x="228.00" y="167.80" font-size="6.9" text-anchor="start" fill="#181830" >IP:y</text>
<text class="se" transform="translate(189.90,188.80) rotate(-90)" font-size="8.5" text-anchor="middle" fill="#111">Magnetization (emu/cc)</text>
<text class="se" x="272.90" y="260.40" font-size="8.8" text-anchor="middle" fill="#111" >μ<tspan font-size="4.8" dy="2.3">0</tspan><tspan dy="-2.3">H</tspan><tspan font-size="4.8" dy="2.3">z</tspan><tspan dy="-2.3"> (mT)</tspan></text>
<text class="se" x="338.10" y="143.60" font-size="11.5" text-anchor="start" fill="#111" >(f)</text>
<path d="M387.30,244.2 v-1.6 M399.73,244.2 v-0.9 M412.15,244.2 v-1.6 M424.57,244.2 v-0.9 M437.00,244.2 v-1.6 M449.43,244.2 v-0.9 M461.85,244.2 v-1.6 M474.27,244.2 v-0.9 M486.70,244.2 v-1.6 M374.5,244.19 h1.6 M374.5,231.73 h0.9 M374.5,219.27 h1.6 M374.5,206.81 h0.9 M374.5,194.35 h1.6 M374.5,181.89 h0.9 M374.5,169.43 h1.6 M374.5,156.97 h0.9 M374.5,144.51 h1.6" stroke="#444" stroke-width="0.5" fill="none"/>
<text class="se" x="387.30" y="252.40" font-size="6.8" text-anchor="middle" fill="#111" >-1000</text>
<text class="se" x="412.15" y="252.40" font-size="6.8" text-anchor="middle" fill="#111" >-500</text>
<text class="se" x="437.00" y="252.40" font-size="6.8" text-anchor="middle" fill="#111" >0</text>
<text class="se" x="461.85" y="252.40" font-size="6.8" text-anchor="middle" fill="#111" >500</text>
<text class="se" x="486.70" y="252.40" font-size="6.8" text-anchor="middle" fill="#111" >1000</text>
<text class="se" x="372.50" y="146.31" font-size="6.3" text-anchor="end" fill="#111" >0.8</text>
<text class="se" x="372.50" y="171.23" font-size="6.3" text-anchor="end" fill="#111" >0.4</text>
<text class="se" x="372.50" y="196.15" font-size="6.3" text-anchor="end" fill="#111" >0.0</text>
<text class="se" x="372.50" y="221.07" font-size="6.3" text-anchor="end" fill="#111" >-0.4</text>
<text class="se" x="372.50" y="245.99" font-size="6.3" text-anchor="end" fill="#111" >-0.8</text>
<path d="M487.0,154.4 L422.95,154.4 L420.3,167.5 L417.5,210 L416.6,235.3 L387.4,235.3" fill="none" stroke="#4436d0" stroke-width="1.05" stroke-linejoin="round"/>
<path d="M387.4,235.3 L451.4,235.3 L454.2,220.8 L455.1,210 L456.8,178 L457.6,154.4 L487.0,154.4" fill="none" stroke="#4436d0" stroke-width="1.05" stroke-linejoin="round"/>
<rect x="374.5" y="144.5" width="125.0" height="99.69999999999999" fill="none" stroke="#666" stroke-width="0.7"/>
<text class="se" transform="translate(354.70,193.40) rotate(-90)" font-size="8.8" text-anchor="middle" fill="#111">R<tspan font-size="6" dy="2.2">H</tspan><tspan dy="-2.2">,Ω</tspan></text>
<text class="se" x="437.00" y="260.20" font-size="8.8" text-anchor="middle" fill="#111" >μ<tspan font-size="4.8" dy="2.3">0</tspan><tspan dy="-2.3">H</tspan><tspan font-size="4.8" dy="2.3">z</tspan><tspan dy="-2.3"> (mT)</tspan></text>
</svg>
</body></html>
